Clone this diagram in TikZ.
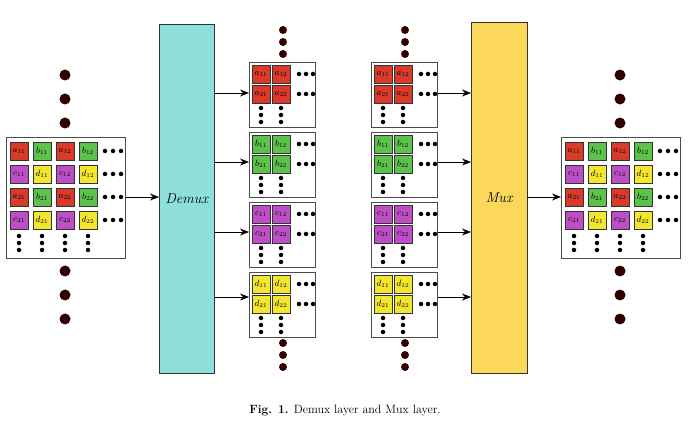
\documentclass[tikz,border=0pt]{standalone}
\usetikzlibrary{arrows.meta}
\begin{document}
\begin{tikzpicture}[x=1pt,y=-1pt,
 frame/.style={draw=black!70,fill=white,line width=0.8pt,inner sep=0pt},
 cell/.style={draw=black!80,line width=0.6pt,minimum size=18pt,inner sep=0pt,font=\small},
 ra/.style={cell,fill=cRed},
 gb/.style={cell,fill=cGreen},
 mc/.style={cell,fill=cMag},
 yd/.style={cell,fill=cYel},
 sd/.style={circle,fill=black,inner sep=0pt,minimum size=4.5pt},
 bd/.style={circle,fill=red!20!black,inner sep=0pt,minimum size=11pt},
 md/.style={circle,fill=red!20!black,inner sep=0pt,minimum size=8pt},
 arr/.style={-{Stealth[length=9pt,width=7pt]},line width=0.8pt}]
\definecolor{cRed}{HTML}{DA3A2A}
\definecolor{cGreen}{HTML}{5DC24C}
\definecolor{cMag}{HTML}{BC4FC4}
\definecolor{cYel}{HTML}{F2E62E}
\definecolor{cDemux}{HTML}{8EDFD9}
\definecolor{cMux}{HTML}{FBD85A}
\useasboundingbox (0,0) rectangle (691,430);
% big grids
\foreach \gx/\nm in {6/L,561/R}{
 \node[frame,minimum width=119pt,minimum height=121pt,anchor=north west] (\nm) at (\gx,137) {};
 \foreach \r/\ya/\yb/\sa/\sb/\ta/\tb in {0/a/b/ra/gb/11/12, 1/c/d/mc/yd/11/12, 2/a/b/ra/gb/21/22, 3/c/d/mc/yd/21/22}{
  \pgfmathsetmacro\cy{151+23*\r}
  \node[\sa] (\nm c\r0) at (\gx+13,\cy) {$\ya_{\ta}$};
  \node[\sb] (\nm c\r1) at (\gx+36,\cy) {$\yb_{\ta}$};
  \node[\sa] (\nm c\r2) at (\gx+59,\cy) {$\ya_{\tb}$};
  \node[\sb] (\nm c\r3) at (\gx+82,\cy) {$\yb_{\tb}$};
  \foreach \k in {0,1,2}{\node[sd] (\nm h\r\k) at (\gx+99+8*\k,\cy) {};}
 }
 \foreach \c in {0,1,2,3}{\foreach \k in {0,1,2}{\node[sd] (\nm v\c\k) at (\gx+13+23*\c,236+7*\k) {};}}
 \foreach \k/\yy in {0/75,1/99,2/123,3/271,4/295,5/319}{\node[bd] (\nm d\k) at (\gx+59,\yy) {};}
}
% boxes
\node[draw=black!80,fill=cDemux,minimum width=55pt,minimum height=349pt,anchor=north west,inner sep=0pt] (demux) at (159,24) {};
\node[font=\Large\itshape] at (demux.center) {Demux};
\node[draw=black!80,fill=cMux,minimum width=56pt,minimum height=351pt,anchor=north west,inner sep=0pt] (mux) at (471,22) {};
\node[font=\Large\itshape] at (mux.center) {Mux};
\draw[arr] (L.east |- 0,197) -- (demux.west |- 0,197);
\draw[arr] (mux.east |- 0,197) -- (R.west |- 0,197);
% small grids
\foreach \gx/\nm in {249/P,371/Q}{
 \foreach \i/\ch/\st in {0/a/ra,1/b/gb,2/c/mc,3/d/yd}{
  \pgfmathsetmacro\fy{62+70*\i}
  \node[frame,minimum width=66pt,minimum height=65pt,anchor=north west] (\nm\i) at (\gx,\fy) {};
  \node[\st] (\nm\i a) at (\gx+12,\fy+12) {$\ch_{11}$};
  \node[\st] (\nm\i b) at (\gx+32,\fy+12) {$\ch_{12}$};
  \node[\st] (\nm\i c) at (\gx+12,\fy+32) {$\ch_{21}$};
  \node[\st] (\nm\i d) at (\gx+32,\fy+32) {$\ch_{22}$};
  \foreach \k in {0,1,2}{
   \node[sd] (\nm\i r\k) at (\gx+50+7*\k,\fy+12) {};
   \node[sd] (\nm\i s\k) at (\gx+50+7*\k,\fy+32) {};
   \node[sd] (\nm\i u\k) at (\gx+12,\fy+46+7*\k) {};
   \node[sd] (\nm\i w\k) at (\gx+32,\fy+46+7*\k) {};}
 }
 \foreach \k/\yy in {0/30,1/42,2/54,3/343,4/355,5/367}{\node[md] (\nm m\k) at (\gx+34,\yy) {};}
}
\foreach \i/\ay in {0/93,1/162,2/232,3/297}{
 \draw[arr] (demux.east |- 0,\ay) -- (P\i.west |- 0,\ay);
 \draw[arr] (Q\i.east |- 0,\ay) -- (mux.west |- 0,\ay);
}
\node (cap) at (345,411) {\large\textbf{Fig. 1.} Demux layer and Mux layer.};
\end{tikzpicture}
\end{document}
